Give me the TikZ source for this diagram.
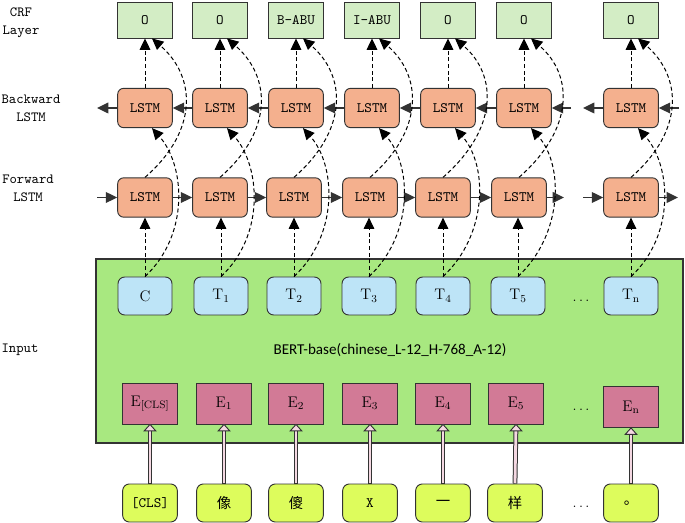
\documentclass[tikz,border=0pt]{standalone}
\usepackage{fontspec}
\newfontfamily\cjk{Noto Sans CJK SC}
\newfontfamily\calib{Carlito}
\usetikzlibrary{arrows.meta}
\definecolor{crfc}{HTML}{D3EDC5}
\definecolor{lstmc}{HTML}{F4B08E}
\definecolor{tc}{HTML}{BDE4F7}
\definecolor{ec}{HTML}{D27A96}
\definecolor{inc}{HTML}{DDFC5C}
\definecolor{bertc}{HTML}{A8E880}
\definecolor{edge}{HTML}{333333}
\definecolor{pinkin}{HTML}{F4D8E2}
\tikzset{
  lbl/.style={font=\ttfamily\fontsize{10.5pt}{13.5pt}\selectfont, align=center, inner sep=0pt},
  crfbox/.style={draw=edge, line width=0.7pt, fill=crfc, minimum width=41.25pt, minimum height=27pt, inner sep=0pt, font=\ttfamily\fontsize{10.8pt}{12pt}\selectfont},
  lstmbox/.style={draw=edge, line width=0.7pt, fill=lstmc, rounded corners=4.5pt, minimum width=41pt, minimum height=29.5pt, inner sep=0pt, font=\ttfamily\fontsize{10.8pt}{12pt}\selectfont},
  tbox/.style={draw=edge, line width=0.7pt, fill=tc, rounded corners=5pt, minimum width=40.5pt, minimum height=28.5pt, inner sep=0pt, font=\rmfamily\fontsize{11.5pt}{12pt}\selectfont},
  ebox/.style={draw=edge, line width=0.7pt, fill=ec, minimum width=41.25pt, minimum height=30.75pt, inner sep=0pt, font=\rmfamily\fontsize{11.5pt}{12pt}\selectfont},
  inbox/.style={draw=edge, line width=0.7pt, fill=inc, rounded corners=5pt, minimum width=41pt, minimum height=28.5pt, inner sep=0pt, font=\ttfamily\fontsize{10.8pt}{12pt}\selectfont},
  harr/.style={draw=edge, line width=1.1pt, -{Triangle[length=8.5pt,width=8pt]}},
  darr/.style={draw=black, line width=0.75pt, dash pattern=on 3pt off 2pt, -{Triangle[length=8.5pt,width=8pt]}},
  shaftout/.style={draw=edge, line width=3.6pt, shorten >=4.5pt},
  shaftin/.style={draw=pinkin, line width=2.1pt, shorten >=4pt, shorten <=0.4pt},
  inhead/.style={draw=edge, line width=0.7pt, fill=pinkin, line join=miter},
}
\begin{document}
\begin{tikzpicture}[x=0.75pt,y=-0.75pt]
\useasboundingbox (0,0) rectangle (685,523);
% left labels
\node[lbl] (lcrf) at (21,23) {CRF\\Layer};
\node[lbl] (lbw) at (31,108) {Backward\\LSTM};
\node[lbl] (lfw) at (28,188) {Forward\\LSTM};
\node[lbl] (lin) at (20,350) {Input};
% BERT block
\node[draw=edge, line width=0.8pt, fill=bertc, minimum width=440.25pt, minimum height=138pt, inner sep=0pt] (bert) at (389.5,351) {};
\node[font=\calib\fontsize{11.3pt}{13pt}\selectfont, inner sep=0pt] (berttxt) at (390,350) {BERT-base(chinese\_L-12\_H-768\_A-12)};
% CRF and backward
\foreach \i/\x/\lab in {1/145/O,2/220/O,3/296/B-ABU,4/372/I-ABU,5/448/O,6/524/O,7/631/O}{
  \node[crfbox] (c\i) at (\x,20) {\lab};
  \node[lstmbox] (b\i) at (\x,108) {LSTM};
}
% forward
\foreach \i/\x in {1/145,2/220,3/294,4/370,5/443,6/519,7/631}{
  \node[lstmbox] (f\i) at (\x,197.5) {LSTM};
}
% T boxes
\foreach \i/\x/\lab in {1/145/{C},2/221/{$\mathrm{T}_1$},3/294/{$\mathrm{T}_2$},4/369/{$\mathrm{T}_3$},5/443/{$\mathrm{T}_4$},6/518/{$\mathrm{T}_5$},7/631/{$\mathrm{T}_{\mathrm{n}}$}}{
  \node[tbox] (t\i) at (\x,296) {\lab};
}
% E boxes
\foreach \i/\x/\y/\lab in {1/150/403.5/{$\mathrm{E}_{\mathrm{[CLS]}}$},2/224/403.5/{$\mathrm{E}_1$},3/296/403.5/{$\mathrm{E}_2$},4/370/403.5/{$\mathrm{E}_3$},5/443/403.5/{$\mathrm{E}_4$},6/516/403.5/{$\mathrm{E}_5$},7/631/407/{$\mathrm{E}_{\mathrm{n}}$}}{
  \node[ebox] (e\i) at (\x,\y) {\lab};
}
% input boxes
\foreach \i/\x/\lab in {1/150/{[CLS]},2/224/{\cjk 像},3/296/{\cjk 傻},4/370/{X},5/443/{\cjk 一},6/515/{\cjk 样},7/631/{\cjk 。}}{
  \node[inbox] (i\i) at (\x,503) {\lab};
}
% dots
\node[font=\rmfamily\fontsize{11pt}{12pt}\selectfont, anchor=base, inner sep=0pt] (dt) at (581,301.5) {.\,.\,.};
\node[font=\rmfamily\fontsize{11pt}{12pt}\selectfont, anchor=base, inner sep=0pt] (de) at (581,410.5) {.\,.\,.};
\node[font=\rmfamily\fontsize{11pt}{12pt}\selectfont, anchor=base, inner sep=0pt] (di) at (581,508) {.\,.\,.};
% horizontal arrows forward
\coordinate (fin) at (97,197.5);
\coordinate (fout6) at (564,197.5);
\coordinate (fin7) at (583,197.5);
\coordinate (fout7) at (678,197.5);
\draw[harr] (fin) -- (f1);
\foreach \a/\b in {1/2,2/3,3/4,4/5,5/6}{\draw[harr] (f\a) -- (f\b);}
\draw[harr] (f6) -- (fout6);
\draw[harr] (fin7) -- (f7);
\draw[harr] (f7) -- (fout7);
% horizontal arrows backward
\coordinate (bout) at (97,108);
\coordinate (bin6) at (571,108);
\coordinate (bout7) at (583,108);
\coordinate (bin7) at (679,108);
\draw[harr] (b1) -- (bout);
\foreach \a/\b in {1/2,2/3,3/4,4/5,5/6}{\draw[harr] (b\b) -- (b\a);}
\draw[harr] (bin6) -- (b6);
\draw[harr] (b7) -- (bout7);
\draw[harr] (bin7) -- (b7);
% dashed connectors
\foreach \i in {1,...,7}{
  \draw[darr] (t\i.north) -- (t\i.north |- f\i.south);
  \draw[darr] (b\i.north) -- (c\i.south);
  \draw[darr] (t\i.north) .. controls +(45,-42) and +(33,37) .. ([xshift=5.25pt]b\i.south);
  \draw[darr] (f\i.north) .. controls +(55,-48) and +(43,37) .. ([xshift=5.25pt]c\i.south);
}
% input arrows (hollow double-line arrows)
\foreach \i in {1,...,7}{
  \draw[shaftout] (i\i.north) -- (e\i.south);
  \draw[shaftin] (i\i.north) -- (e\i.south);
  \draw[inhead] ([xshift=-4.3pt,yshift=-4.8pt]e\i.south) -- (e\i.south) -- ([xshift=4.3pt,yshift=-4.8pt]e\i.south) -- cycle;
}
\end{tikzpicture}
\end{document}
